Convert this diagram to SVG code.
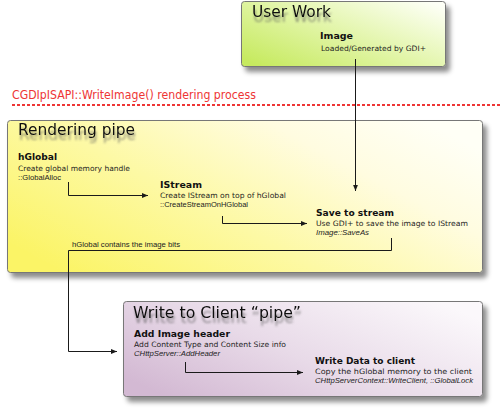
<svg xmlns="http://www.w3.org/2000/svg" width="500" height="410" viewBox="0 0 500 410">
<defs>
<linearGradient id="gUser" x1="0" y1="0.9" x2="1" y2="0.1">
<stop offset="0" stop-color="#c6ea5e"/><stop offset="0.45" stop-color="#dff4a0"/><stop offset="1" stop-color="#fdfff6"/>
</linearGradient>
<linearGradient id="gRender" x1="0" y1="0.8" x2="1" y2="0.2">
<stop offset="0" stop-color="#fbf466"/><stop offset="0.4" stop-color="#fdf9a4"/><stop offset="0.75" stop-color="#fffce0"/><stop offset="1" stop-color="#fffff6"/>
</linearGradient>
<linearGradient id="gClient" x1="0" y1="0.8" x2="1" y2="0.2">
<stop offset="0" stop-color="#d3b9d3"/><stop offset="0.45" stop-color="#e8dae8"/><stop offset="1" stop-color="#fbf8fb"/>
</linearGradient>
<filter id="shadow" x="-5%" y="-10%" width="115%" height="130%">
<feGaussianBlur in="SourceAlpha" stdDeviation="2.5"/>
<feOffset dx="4" dy="5" result="b"/>
<feFlood flood-color="#000" flood-opacity="0.45"/>
<feComposite in2="b" operator="in" result="s"/>
<feMerge><feMergeNode in="s"/><feMergeNode in="SourceGraphic"/></feMerge>
</filter>
<filter id="reflect" x="-5%" y="-30%" width="115%" height="180%">
<feGaussianBlur in="SourceAlpha" stdDeviation="1.1"/>
<feOffset dx="1" dy="5" result="b"/>
<feFlood flood-color="#555" flood-opacity="0.6"/>
<feComposite in2="b" operator="in" result="s"/>
<feMerge><feMergeNode in="s"/><feMergeNode in="SourceGraphic"/></feMerge>
</filter>
<marker id="arr" viewBox="0 0 6 6" refX="6" refY="3" markerWidth="6" markerHeight="6" markerUnits="userSpaceOnUse" orient="auto">
<path d="M0,0.6 L6,3 L0,5.4 Z" fill="#1a1a1a"/>
</marker>
</defs>
<style>
.box{stroke:#777;stroke-width:1;filter:url(#shadow)}
.title{font-family:"DejaVu Sans",Tahoma,sans-serif;font-size:16px;fill:#111;filter:url(#reflect)}
.head{font-family:"DejaVu Sans",sans-serif;font-weight:bold;font-size:9px;fill:#111}
.body{font-family:"DejaVu Sans",sans-serif;font-size:7.4px;fill:#1e1e1e}
.small{font-family:"Liberation Sans",Arial,sans-serif;font-size:7px;fill:#222}
.ital{font-family:"Liberation Sans",Arial,sans-serif;font-size:7px;font-style:italic;fill:#222}
.conn{fill:none;stroke:#1a1a1a;stroke-width:1}
</style>

<g id="user-work">
<rect class="box" x="241.5" y="1.5" width="204" height="65" rx="3" fill="url(#gUser)"/>
<text class="title" x="252" y="17" textLength="79" lengthAdjust="spacingAndGlyphs">User Work</text>
<text class="head" x="320" y="39" textLength="33" lengthAdjust="spacingAndGlyphs">Image</text>
<text class="body" x="321" y="51" textLength="105" lengthAdjust="spacingAndGlyphs">Loaded/Generated by GDI+</text>
</g>

<g id="process-title">
<text x="12" y="99" font-family="'DejaVu Sans',Tahoma,sans-serif" font-size="11.5" fill="#ee3535" textLength="244" lengthAdjust="spacingAndGlyphs">CGDIpISAPI::WriteImage() rendering process</text>
<line x1="12" y1="105" x2="500" y2="105" stroke="#ee3535" stroke-width="2" stroke-dasharray="3 2"/>
</g>

<g id="rendering-pipe">
<rect class="box" x="7.5" y="120.5" width="475" height="152" rx="3" fill="url(#gRender)"/>
<text class="title" x="18" y="135" textLength="117" lengthAdjust="spacingAndGlyphs">Rendering pipe</text>
</g>

<g id="hglobal">
<text class="head" x="18" y="160" textLength="39" lengthAdjust="spacingAndGlyphs">hGlobal</text>
<text class="body" x="18" y="171" textLength="112" lengthAdjust="spacingAndGlyphs">Create global memory handle</text>
<text class="small" x="18" y="180" textLength="43" lengthAdjust="spacingAndGlyphs">::GlobalAlloc</text>
</g>

<g id="istream">
<text class="head" x="160" y="188" textLength="42" lengthAdjust="spacingAndGlyphs">IStream</text>
<text class="body" x="160" y="197.5" textLength="126" lengthAdjust="spacingAndGlyphs">Create IStream on top of hGlobal</text>
<text class="small" x="160" y="206.5" textLength="88" lengthAdjust="spacingAndGlyphs">::CreateStreamOnHGlobal</text>
</g>

<g id="save-to-stream">
<text class="head" x="316" y="215.5" textLength="78" lengthAdjust="spacingAndGlyphs">Save to stream</text>
<text class="body" x="316" y="226" textLength="152" lengthAdjust="spacingAndGlyphs">Use GDI+ to save the image to IStream</text>
<text class="ital" x="316" y="235" textLength="53" lengthAdjust="spacingAndGlyphs">Image::SaveAs</text>
</g>

<g id="write-to-client">
<rect class="box" x="123.5" y="301.5" width="359" height="95" rx="3" fill="url(#gClient)"/>
<text class="title" x="133" y="318" textLength="168" lengthAdjust="spacingAndGlyphs">Write to Client “pipe”</text>
</g>

<g id="add-image-header">
<text class="head" x="134" y="337" textLength="96" lengthAdjust="spacingAndGlyphs">Add Image header</text>
<text class="body" x="134" y="347" textLength="152" lengthAdjust="spacingAndGlyphs">Add Content Type and Content Size info</text>
<text class="ital" x="134" y="356" textLength="86" lengthAdjust="spacingAndGlyphs">CHttpServer::AddHeader</text>
</g>

<g id="write-data">
<text class="head" x="315" y="363.5" textLength="100" lengthAdjust="spacingAndGlyphs">Write Data to client</text>
<text class="body" x="315" y="374" textLength="157" lengthAdjust="spacingAndGlyphs">Copy the hGlobal memory to the client</text>
<text class="ital" x="315" y="382.5" textLength="158" lengthAdjust="spacingAndGlyphs">CHttpServerContext::WriteClient, ::GlobalLock</text>
</g>

<g id="connectors">
<path class="conn" d="M355.5,59 V191" marker-end="url(#arr)"/>
<path class="conn" d="M68.5,182 V195.5 H148" marker-end="url(#arr)"/>
<path class="conn" d="M222.5,216 V223.5 H307" marker-end="url(#arr)"/>
<path class="conn" d="M391.5,238 V250.5 H68.5 V351.5 H117" marker-end="url(#arr)"/>
<path class="conn" d="M185.5,362 V372.5 H303" marker-end="url(#arr)"/>
<text class="small" x="72" y="246.5" textLength="108" lengthAdjust="spacingAndGlyphs">hGlobal contains the image bits</text>
</g>
</svg>
